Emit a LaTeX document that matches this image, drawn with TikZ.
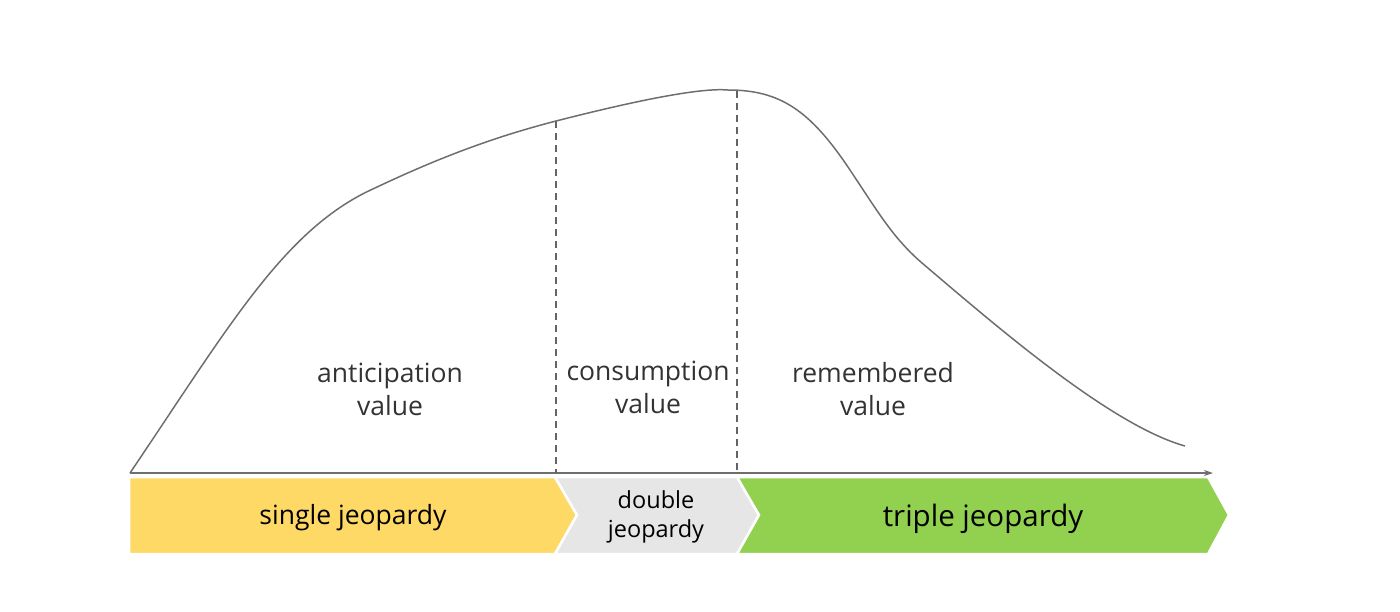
\documentclass[tikz,border=0pt]{standalone}
\usepackage{fontspec}
\setmainfont{Open Sans}
\usetikzlibrary{arrows.meta}
\definecolor{cyellow}{HTML}{FED966}
\definecolor{cgray}{HTML}{E6E6E6}
\definecolor{cgreen}{HTML}{92D050}
\definecolor{cline}{HTML}{6E6E6E}
\definecolor{ctext}{HTML}{333333}
\tikzset{
  band/.style={draw=white, line width=2.5pt, line join=miter},
  lbl/.style={text=ctext, font=\fontsize{26.5}{33}\selectfont, align=center, inner sep=0pt},
  bandtxt/.style={text=black, align=center, inner sep=0pt},
  divider/.style={draw=cline!90!black, line width=1.2pt, dash pattern=on 7pt off 5pt},
  axisline/.style={draw=cline, line width=1.5pt, -{Stealth[length=9pt,width=6pt]}},
  curve/.style={draw=cline, line width=1.5pt}
}
\begin{document}
\begin{tikzpicture}[x=1pt,y=-1pt]
\useasboundingbox (0,0) rectangle (1400,611);
% bands
\fill[cyellow, band] (129,477) -- (555,477) -- (577,515) -- (555,554) -- (129,554) -- cycle;
\fill[cgray, band] (555,477) -- (737,477) -- (759,515) -- (737,554) -- (555,554) -- (577,515) -- cycle;
\fill[cgreen, band] (737,477) -- (1208,477) -- (1229,515) -- (1208,554) -- (737,554) -- (759,515) -- cycle;
\fill[white] (0,554.5) rectangle (1400,611);
\fill[white] (0,440) rectangle (129.5,611);
\node[bandtxt, font=\fontsize{26.5}{30}\selectfont] (single) at (353,518) {single jeopardy};
\node[bandtxt, font=\fontsize{23.5}{29}\selectfont] (double) at (656,517) {double\\jeopardy};
\node[bandtxt, font=\fontsize{29.5}{32}\selectfont] (triple) at (983,519) {triple jeopardy};
% axis
\coordinate (origin) at (130,473);
\coordinate (axisend) at (1213,473);
\draw[axisline] (origin) -- (axisend);
% dividers
\coordinate (d1top) at (556,121);
\coordinate (d1bot) at (556,473);
\coordinate (d2top) at (737,91);
\coordinate (d2bot) at (737,473);
\draw[divider] (d1top) -- (d1bot);
\draw[divider] (d2top) -- (d2bot);
% curve
\draw[curve] (origin)
  .. controls (230,325) and (285,228) .. (375,188)
  .. controls (455,150) and (510,133) .. (d1top)
  .. controls (611,107) and (695,87) .. (728,90)
  .. controls (780,90) and (810,110) .. (850,170)
  .. controls (878,212) and (893,238) .. (922,263)
  .. controls (995,325) and (1110,425) .. (1185,446);
% labels
\node[lbl] (antic) at (390,389) {anticipation\\value};
\node[lbl] (consum) at (648,387) {consumption\\value};
\node[lbl] (remem) at (873,389) {remembered\\value};
\end{tikzpicture}
\end{document}
